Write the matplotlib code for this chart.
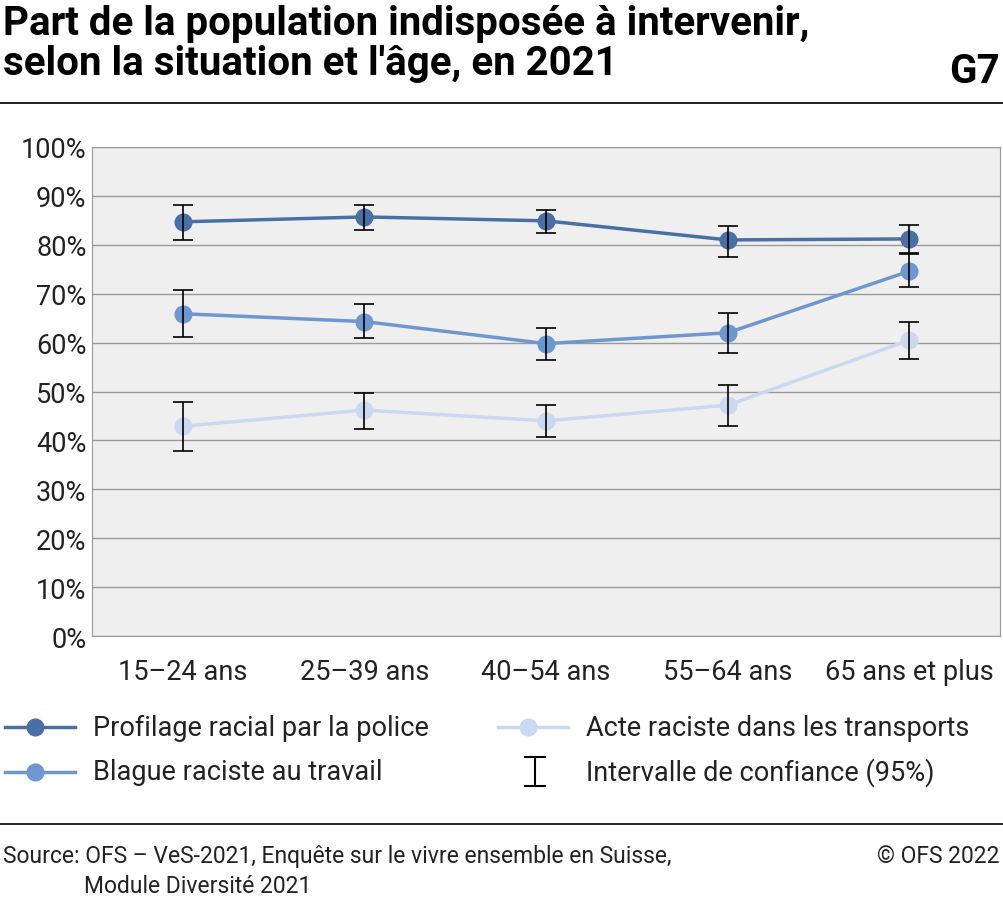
import matplotlib.pyplot as plt
from matplotlib.lines import Line2D
import numpy as np

plt.rcParams['font.family'] = ['Roboto', 'DejaVu Sans']

ages = ['15–24 ans', '25–39 ans', '40–54 ans', '55–64 ans', '65 ans et plus']

police = [84.7, 85.7, 84.9, 81.0, 81.2]
police_lo = [81.0, 83.0, 82.4, 77.5, 78.1]
police_hi = [88.1, 88.1, 87.1, 83.8, 84.0]

blague = [65.9, 64.3, 59.8, 62.0, 74.6]
blague_lo = [61.1, 60.9, 56.4, 57.9, 71.4]
blague_hi = [70.8, 67.9, 63.0, 66.1, 78.3]

transport = [42.9, 46.2, 44.0, 47.2, 60.5]
transport_lo = [37.8, 42.3, 40.7, 42.9, 56.6]
transport_hi = [47.9, 49.7, 47.2, 51.3, 64.2]

c_police = '#4a6fa5'
c_blague = '#6e97d0'
c_transport = '#cad9f0'

W, H = 1004, 904
fig = plt.figure(figsize=(W/100, H/100), dpi=100)
ax = fig.add_axes([92/W, (H-637)/H, 908/W, 489/H])
ax.set_facecolor('#efefef')
x = np.arange(len(ages))

series = [(police, police_lo, police_hi, c_police, 'Profilage racial par la police'),
          (blague, blague_lo, blague_hi, c_blague, 'Blague raciste au travail'),
          (transport, transport_lo, transport_hi, c_transport, 'Acte raciste dans les transports')]
for vals, lo, hi, col, lab in series:
    v = np.array(vals)
    ax.plot(x, v, color=col, lw=2.5, marker='o', ms=12, label=lab, zorder=3)
    ax.errorbar(x, v, yerr=[v - np.array(lo), np.array(hi) - v], fmt='none',
                ecolor='black', elinewidth=1.2, capsize=7, capthick=1.2, zorder=4)

ax.set_xlim(-0.5, 4.5)
ax.set_ylim(0, 100)
ax.set_yticks(range(0, 101, 10))
ax.set_yticklabels([f'{t}%' for t in range(0, 101, 10)])
ax.set_xticks(x)
ax.set_xticklabels(ages)
ax.grid(axis='y', color='#9a9a9a', lw=1)
ax.set_axisbelow(True)
for s in ax.spines.values():
    s.set_color('#9a9a9a')
ax.tick_params(length=0, labelsize=19.5, colors='#222222', pad=16)
ax.tick_params(axis='y', pad=4)

fig.text(3/W, 1 - 5/H, "Part de la population indisposée à intervenir,\nselon la situation et l'âge, en 2021",
         fontsize=29, fontweight='bold', va='top', linespacing=1.08)
fig.text(1 - 4/W, 1 - 83/H, 'G7', fontsize=29, fontweight='bold', ha='right', va='baseline')
fig.add_artist(Line2D([0, 1], [1 - 104/H] * 2, color='black', lw=1.2))
fig.add_artist(Line2D([0, 1], [1 - 825/H] * 2, color='black', lw=1.2))

# legend drawn by hand
def fx(px):
    return px / W

def fy(py):
    return 1 - py / H

leg_items = [(5, 728, series[0]), (5, 773, series[1]), (498, 728, series[2])]
for x0, y0, s in leg_items:
    fig.add_artist(Line2D([fx(x0), fx(x0 + 70)], [fy(y0)] * 2, color=s[3], lw=2.5))
    fig.add_artist(Line2D([fx(x0 + 30)], [fy(y0)], color=s[3], marker='o', ms=12))
    fig.text(fx(x0 + 88), fy(y0), s[4], fontsize=19.5, va='center', color='#222222')
cx = 535
fig.add_artist(Line2D([fx(cx)] * 2, [fy(758), fy(787)], color='black', lw=1.5))
for yy in (758, 787):
    fig.add_artist(Line2D([fx(cx - 10), fx(cx + 10)], [fy(yy)] * 2, color='black', lw=1.5))
fig.text(fx(586), fy(773), 'Intervalle de confiance (95%)', fontsize=19.5, va='center', color='#222222')

fig.text(3/W, fy(857), 'Source: OFS – VeS-2021, Enquête sur le vivre ensemble en Suisse,',
         fontsize=16.5, va='center', color='#222222')
fig.text(fx(84), fy(887), 'Module Diversité 2021', fontsize=16.5, va='center', color='#222222')
fig.text(1 - 4/W, fy(857), '© OFS 2022', fontsize=16.5, va='center', ha='right', color='#222222')

fig.savefig('out.png', dpi=100)
